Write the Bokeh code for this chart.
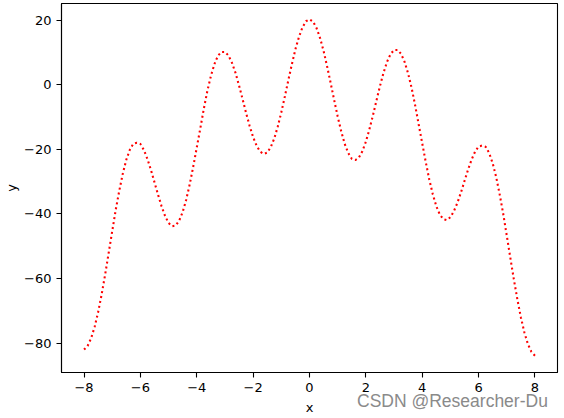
from bokeh.plotting import figure
from bokeh.models import Range1d, FixedTicker, CustomJSTickFormatter, Div
from bokeh.layouts import column
from bokeh.embed import file_html
from bokeh.resources import INLINE

# x sampled every 0.125 from -8 to 8
x_start = -8.0
x_step = 0.125
y_values = [
    -82.0, -80.9, -78.5, -75.0, -70.4, -64.9, -58.7, -52.0,
    -45.3, -38.7, -32.8, -27.5, -23.2, -20.1, -18.2, -17.9,
    -18.3, -20.2, -23.0, -26.4, -30.2, -34.0, -37.6, -40.6,
    -42.8, -43.8, -43.6, -42.1, -39.4, -35.6, -30.8, -25.3,
    -19.4, -13.5, -7.4, -1.9, 2.7, 6.4, 9.0, 10.2,
    10.2, 9.1, 6.8, 3.7, -0.2, -4.4, -8.7, -12.7,
    -16.2, -18.9, -20.7, -21.4, -21.0, -19.3, -16.6, -12.9,
    -8.5, -3.6, 1.5, 6.4, 11.0, 14.8, 17.8, 19.7,
    20.3,
    19.6, 17.6, 14.5, 10.5, 5.7, 0.6, -4.7, -9.8,
    -14.4, -18.3, -21.1, -22.9, -23.3, -22.6, -20.6, -17.6,
    -13.8, -9.5, -4.9, -0.4, 3.7, 7.1, 9.5, 10.8,
    10.8, 9.6, 7.1, 3.5, -1.0, -6.4, -12.3, -18.1,
    -23.9, -29.3, -33.9, -37.6, -40.2, -41.6, -41.9, -41.0,
    -39.1, -36.5, -33.3, -29.8, -26.3, -23.2, -20.7, -19.1,
    -18.8, -19.2, -21.1, -24.3, -28.6, -34.0, -40.0, -46.7,
    -53.5, -60.2, -66.4, -72.0, -76.7, -80.3, -82.7, -83.9,
]
x_values = [x_start + i * x_step for i in range(len(y_values))]

x_ticks = [-8, -6, -4, -2, 0, 2, 4, 6, 8]
y_ticks = [-80, -60, -40, -20, 0, 20]
x_label = "x"
y_label = "y"
watermark = "CSDN @Researcher-Du"

FONT = "DejaVu Sans"

p = figure(width=564, height=418, output_backend="svg", toolbar_location=None,
           x_range=Range1d(-8.8, 8.8), y_range=Range1d(-89.1, 25.2),
           min_border_left=61, min_border_right=7, min_border_top=3,
           min_border_bottom=46)

p.line(x_values, y_values, line_color="#ff0000", line_width=2.08,
       line_dash="2 3", line_cap="butt")

p.xgrid.visible = False
p.ygrid.visible = False
p.outline_line_color = "black"
p.outline_line_width = 1.1
p.background_fill_color = "white"
p.border_fill_color = "white"

fmt = CustomJSTickFormatter(code="return String(tick).replace('-', '\u2212');")

for ax, ticks, lab in ((p.xaxis[0], x_ticks, x_label), (p.yaxis[0], y_ticks, y_label)):
    ax.ticker = FixedTicker(ticks=ticks)
    ax.formatter = fmt
    ax.minor_tick_line_color = None
    ax.major_tick_in = 0
    ax.major_tick_out = 5
    ax.major_tick_line_width = 1.1
    ax.major_tick_line_color = "black"
    ax.axis_line_color = "black"
    ax.axis_line_width = 1.1
    ax.major_label_text_font = FONT
    ax.major_label_text_font_size = "13px"
    ax.major_label_text_color = "black"
    ax.major_label_standoff = 5
    ax.axis_label = lab
    ax.axis_label_text_font = FONT
    ax.axis_label_text_font_size = "13px"
    ax.axis_label_text_font_style = "normal"
    ax.axis_label_text_color = "black"

p.xaxis[0].axis_label_standoff = 5
p.yaxis[0].axis_label_standoff = 2

wm = Div(text=watermark, width=210, height=20, margin=(-27, 0, 0, 357),
         styles={"font-family": "Liberation Sans", "font-size": "17.5px",
                 "color": "#8a8a8a", "line-height": "20px",
                 "white-space": "nowrap", "position": "relative",
                 "z-index": "10"})

layout = column(p, wm, spacing=0)

open("out.html", "w").write(file_html(layout, INLINE))
